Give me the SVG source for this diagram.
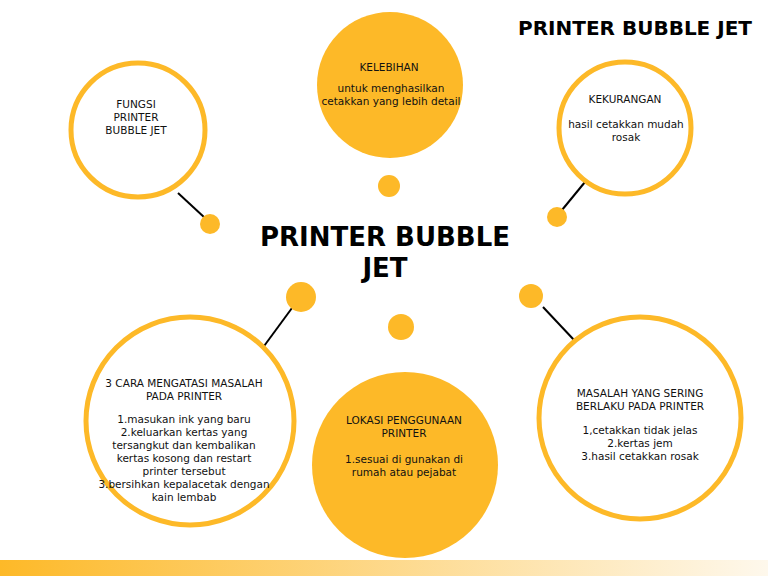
<svg xmlns="http://www.w3.org/2000/svg" width="768" height="576" viewBox="0 0 768 576">
<defs>
<linearGradient id="g" x1="0" x2="1" y1="0" y2="0"><stop offset="0" stop-color="#fdb928"/><stop offset="1" stop-color="#fef8ec"/></linearGradient>
<style>
.o{fill:#fff;stroke:#fdb928;stroke-width:5}
.f{fill:#fdb928}
.t{font-family:"DejaVu Sans",sans-serif;font-size:10.5px;text-anchor:middle;fill:#111}
.h{font-family:"DejaVu Sans",sans-serif;font-weight:bold;text-anchor:middle;fill:#000}
.c line{stroke:#000;stroke-width:2}
</style>
</defs>
<rect width="768" height="576" fill="#fff"/>
<rect x="0" y="560" width="768" height="16" fill="url(#g)"/>
<g class="c">
<line x1="178" y1="193" x2="205" y2="218"/>
<line x1="585" y1="182" x2="562" y2="210"/>
<line x1="256" y1="357" x2="292" y2="308"/>
<line x1="543" y1="307" x2="574" y2="340"/>
</g>
<g id="dots">
<circle class="f" cx="210" cy="224" r="10"/>
<circle class="f" cx="389" cy="186" r="11"/>
<circle class="f" cx="557" cy="217" r="10"/>
<circle class="f" cx="301" cy="297" r="15"/>
<circle class="f" cx="401" cy="327" r="13"/>
<circle class="f" cx="531" cy="296" r="12"/>
</g>
<g id="title"><text class="h" x="635" y="35" font-size="20">PRINTER BUBBLE JET</text></g>
<g id="center"><text class="h" x="385" y="246" font-size="26">PRINTER BUBBLE</text><text class="h" x="385" y="277" font-size="26">JET</text></g>
<g id="kelebihan"><circle class="f" cx="390" cy="85" r="73"/>
<text class="t" x="389" y="71">KELEBIHAN</text><text class="t" x="391" y="92">untuk menghasilkan</text><text class="t" x="391" y="105">cetakkan yang lebih detail</text></g>
<g id="fungsi"><circle class="o" cx="138" cy="130" r="67"/>
<text class="t" x="136" y="108">FUNGSI</text><text class="t" x="136" y="121">PRINTER</text><text class="t" x="136" y="134">BUBBLE JET</text></g>
<g id="kekurangan"><circle class="o" cx="625" cy="128" r="66"/>
<text class="t" x="625" y="103">KEKURANGAN</text><text class="t" x="626" y="128">hasil cetakkan mudah</text><text class="t" x="626" y="141">rosak</text></g>
<g id="cara"><circle class="o" cx="190" cy="421" r="104"/>
<text class="t" x="184" y="387">3 CARA MENGATASI MASALAH</text><text class="t" x="184" y="400">PADA PRINTER</text>
<text class="t" x="184" y="423">1.masukan ink yang baru</text><text class="t" x="184" y="436">2.keluarkan kertas yang</text><text class="t" x="184" y="449">tersangkut dan kembalikan</text><text class="t" x="184" y="462">kertas kosong dan restart</text><text class="t" x="184" y="475">printer tersebut</text><text class="t" x="184" y="488">3.bersihkan kepalacetak dengan</text><text class="t" x="184" y="501">kain lembab</text></g>
<g id="lokasi"><circle class="f" cx="405" cy="465" r="93"/>
<text class="t" x="404" y="424">LOKASI PENGGUNAAN</text><text class="t" x="404" y="437">PRINTER</text><text class="t" x="404" y="463">1.sesuai di gunakan di</text><text class="t" x="404" y="476">rumah atau pejabat</text></g>
<g id="masalah"><circle class="o" cx="640" cy="418" r="101"/>
<text class="t" x="640" y="397">MASALAH YANG SERING</text><text class="t" x="640" y="410">BERLAKU PADA PRINTER</text><text class="t" x="640" y="434">1,cetakkan tidak jelas</text><text class="t" x="640" y="447">2.kertas jem</text><text class="t" x="640" y="460">3.hasil cetakkan rosak</text></g>
</svg>
